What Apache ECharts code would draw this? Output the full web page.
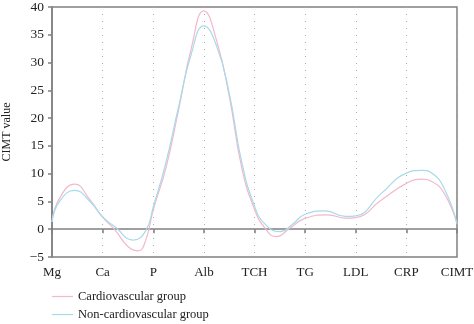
<!DOCTYPE html>
<html>
<head>
<meta charset="utf-8">
<script src="https://cdn.jsdelivr.net/npm/echarts@6/dist/echarts.min.js"></script>
<style>
  html, body { margin: 0; padding: 0; background: #fff; }
  #chart { width: 474px; height: 324px; }
</style>
</head>
<body>
<div id="chart"></div>
<script>
// Indicator names along the horizontal axis (positions 0..8)
const categories = ['Mg', 'Ca', 'P', 'Alb', 'TCH', 'TG', 'LDL', 'CRP', 'CIMT'];

// Vertical axis ticks
const yTicks = { min: -5, max: 40, step: 5 };

// Curve samples as [position, CIMT value]
const cardiovascular = [
  [0, 1.3], [0.15, 5.6], [0.45, 8.1], [0.75, 5.3], [1, 2.2], [1.25, -0.2],
  [1.5, -3.1], [1.7, -3.9], [1.85, -2.0], [2, 3.5], [2.25, 11], [2.5, 21.5],
  [2.75, 32.5], [3, 39.3], [3.25, 34], [3.5, 24], [3.75, 11], [4, 3.6],
  [4.2, 0.3], [4.43, -1.35], [4.7, 0.2], [5, 1.95], [5.45, 2.6], [5.8, 2.0],
  [6, 2.1], [6.5, 5.2], [7, 8.25], [7.3, 9.0], [7.5, 8.6], [7.75, 6.4], [8, 1.0]
];
const nonCardiovascular = [
  [0, 1.3], [0.15, 5.0], [0.45, 7.0], [0.75, 5.0], [1, 2.2], [1.25, 0.4],
  [1.6, -1.95], [1.85, -0.3], [2, 4.0], [2.25, 12], [2.5, 22], [2.75, 31.5],
  [3, 36.6], [3.25, 33], [3.5, 24.5], [3.75, 12], [4, 4.2], [4.2, 1.0],
  [4.5, -0.45], [4.75, 0.9], [5, 2.7], [5.4, 3.3], [5.8, 2.3], [6, 2.4],
  [6.5, 6.4], [7, 10.1], [7.3, 10.6], [7.5, 10.1], [7.75, 7.3], [8, 1.0]
];

const seriesNames = ['Cardiovascular group', 'Non-cardiovascular group'];
const seriesColors = ['#f3b8cb', '#a6dbe8'];

const serif = '"Liberation Serif", "DejaVu Serif", serif';
const axisGrey = '#808080';

// One legend per row, each with a short line swatch
function legendRow(name, top) {
  return {
    data: [name], left: 52, top: top, padding: 0,
    icon: 'rect', itemWidth: 21, itemHeight: 1.2, itemGap: 0,
    textStyle: { fontFamily: serif, fontSize: 12.5, color: '#222' }
  };
}

const chart = echarts.init(document.getElementById('chart'), null, { renderer: 'canvas' });
chart.setOption({
  animation: false,
  backgroundColor: '#fff',
  textStyle: { fontFamily: serif, color: '#222' },
  grid: {
    left: 52, right: 17, top: 7, bottom: 67,
    containLabel: false, outerBoundsMode: 'none',
    show: true, borderColor: axisGrey, borderWidth: 1.5
  },
  legend: [legendRow(seriesNames[0], 290), legendRow(seriesNames[1], 308)],
  xAxis: {
    type: 'value',
    min: 0, max: categories.length - 1, interval: 1,
    axisLine: { lineStyle: { color: axisGrey, width: 1.5 } },
    axisTick: { show: true, length: 4, lineStyle: { color: axisGrey, width: 1.5 } },
    axisLabel: {
      margin: 9, fontSize: 13, fontFamily: serif, color: '#222',
      formatter: v => categories[Math.round(v)] || ''
    },
    splitLine: { show: true, lineStyle: { color: '#aaa', type: [1, 6], width: 1 } }
  },
  yAxis: {
    type: 'value',
    min: yTicks.min, max: yTicks.max, interval: yTicks.step,
    name: 'CIMT value',
    nameLocation: 'middle', nameGap: 39, nameRotate: 90,
    nameTextStyle: { fontFamily: serif, fontSize: 12, color: '#222' },
    axisLine: { show: true, lineStyle: { color: axisGrey, width: 1.5 } },
    axisTick: { show: true, length: 4, lineStyle: { color: axisGrey, width: 1.5 } },
    axisLabel: {
      margin: 8, fontSize: 13.5, fontFamily: serif, color: '#222',
      formatter: v => String(v).replace('-', '\u2212')
    },
    splitLine: { show: false }
  },
  series: [
    {
      name: seriesNames[0],
      type: 'line', data: cardiovascular, smooth: 0.5, symbol: 'none',
      lineStyle: { color: seriesColors[0], width: 1.2 },
      itemStyle: { color: seriesColors[0] }
    },
    {
      name: seriesNames[1],
      type: 'line', data: nonCardiovascular, smooth: 0.5, symbol: 'none',
      lineStyle: { color: seriesColors[1], width: 1.2 },
      itemStyle: { color: seriesColors[1] }
    }
  ]
});
</script>
</body>
</html>
